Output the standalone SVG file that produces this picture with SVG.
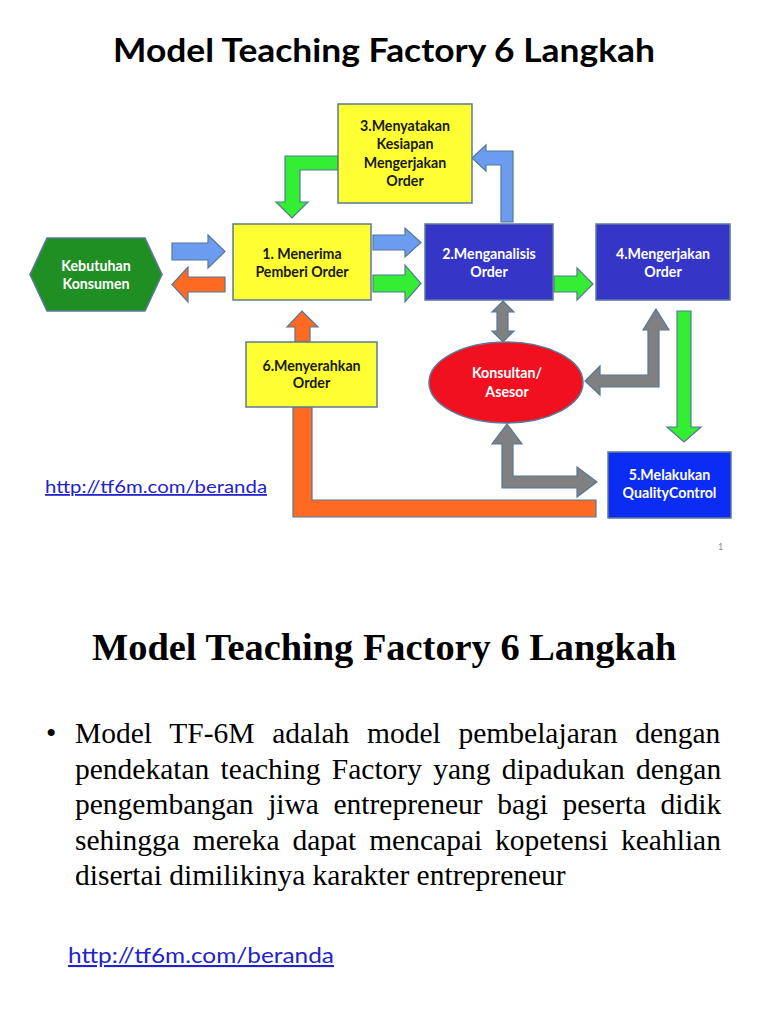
<svg xmlns="http://www.w3.org/2000/svg" width="768" height="1024" viewBox="0 0 768 1024">
<style>
.bg{fill:#ffffff}
.box{stroke:#5b7a99;stroke-width:1.5}
.yel{fill:#ffff33}
.nav{fill:#3535c8}
.blu5{fill:#0b2cf2}
.lbl{font-family:Lato,"Liberation Sans",sans-serif;font-weight:bold;font-size:14.2px;text-anchor:middle}
.dk{fill:#1a1a1a}
.wt{fill:#ffffff}
.arr{stroke:#55779a;stroke-width:1.2;stroke-linejoin:miter}
.a-blue{fill:#6b9cf0}
.a-green{fill:#33ee33}
.a-orange{fill:#ff6a22}
.a-gray{fill:#808080}
.title1{font-family:Lato,"Liberation Sans",sans-serif;font-weight:bold;font-size:33px;fill:#000}
.title2{font-family:"Liberation Serif","Times New Roman",serif;font-weight:bold;font-size:38.4px;fill:#000}
.body{font-family:"Liberation Serif","Times New Roman",serif;font-size:29.5px;fill:#000}
.url{font-family:Lato,"Liberation Sans",sans-serif;fill:#2323cc;text-decoration:underline}
</style>
<rect class="bg" x="0" y="0" width="768" height="1024"/>

<text class="title1" x="113" y="62" textLength="542" lengthAdjust="spacingAndGlyphs">Model Teaching Factory 6 Langkah</text>

<g id="connectors">
  <polygon class="arr a-blue" points="172,243 208,243 208,235 225,251.5 208,268 208,260 172,260"/>
  <polygon class="arr a-orange" points="225,277 188,277 188,267 172,284.5 188,302 188,292 225,292"/>
  <polygon class="arr a-blue" points="373,235 405,235 405,228 421,242.5 405,257 405,250 373,250"/>
  <polygon class="arr a-green" points="373,275 405,275 405,265 421,283.5 405,302 405,292 373,292"/>
  <polygon class="arr a-green" points="554,276 577,276 577,268 593,284 577,300 577,292 554,292"/>
  <polygon class="arr a-green" points="338,156 285,156 285,202 276,202 292,218 308,202 300,202 300,170 338,170"/>
  <polygon class="arr a-blue" points="513,222 513,151 486,151 486,145 472,158 486,171 486,165 501,165 501,222"/>
  <polygon class="arr a-gray" points="503,301 514,312 508,312 508,331 514,331 503,342 492,331 497,331 497,312 492,312"/>
  <polygon class="arr a-gray" points="656,309 669,330 659,330 659,387 600,387 600,395 585,381 600,366 600,375 648,375 648,330 643,330"/>
  <polygon class="arr a-green" points="677,311 691,311 691,427 701,427 684,442 667,427 677,427"/>
  <polygon class="arr a-gray" points="507,424 522,444 513,444 513,476 577,476 577,467 597,482 577,497 577,488 502,488 502,444 492,444"/>
  <polygon class="arr a-orange" points="295,342 295,327 287,327 302,311 318,327 310,327 310,342"/>
  <polygon class="arr a-orange" points="293,407 312,407 312,500 596,500 596,517 293,517"/>
</g>

<g id="node-kebutuhan">
  <polygon points="30,274.5 47,238 145,238 162,274.5 145,311 47,311" fill="#1f8f24" stroke="#5b7a99" stroke-width="1.5"/>
  <text class="lbl wt" x="96" y="271">Kebutuhan</text>
  <text class="lbl wt" x="96" y="289">Konsumen</text>
</g>
<g id="node-1">
  <rect class="box yel" x="233" y="224" width="138" height="76"/>
  <text class="lbl dk" x="302" y="259">1. Menerima</text>
  <text class="lbl dk" x="302" y="277">Pemberi Order</text>
</g>
<g id="node-2">
  <rect class="box nav" x="425" y="224" width="128" height="76"/>
  <text class="lbl wt" x="489" y="259">2.Menganalisis</text>
  <text class="lbl wt" x="489" y="277">Order</text>
</g>
<g id="node-3">
  <rect class="box yel" x="338" y="104" width="134" height="99"/>
  <text class="lbl dk" x="405" y="131">3.Menyatakan</text>
  <text class="lbl dk" x="405" y="149">Kesiapan</text>
  <text class="lbl dk" x="405" y="168">Mengerjakan</text>
  <text class="lbl dk" x="405" y="186">Order</text>
</g>
<g id="node-4">
  <rect class="box nav" x="596" y="224" width="134" height="76"/>
  <text class="lbl wt" x="663" y="259">4.Mengerjakan</text>
  <text class="lbl wt" x="663" y="277">Order</text>
</g>
<g id="node-5">
  <rect class="box blu5" x="608" y="452" width="123" height="66"/>
  <text class="lbl wt" x="669.5" y="480">5.Melakukan</text>
  <text class="lbl wt" x="669.5" y="498">QualityControl</text>
</g>
<g id="node-6">
  <rect class="box yel" x="246" y="342" width="131" height="65"/>
  <text class="lbl dk" x="311.5" y="371">6.Menyerahkan</text>
  <text class="lbl dk" x="311.5" y="388">Order</text>
</g>
<g id="node-konsultan">
  <ellipse cx="506" cy="382.5" rx="77" ry="40.5" fill="#f01020" stroke="#5b7a99" stroke-width="1.5"/>
  <text class="lbl wt" x="507" y="378">Konsultan/</text>
  <text class="lbl wt" x="507" y="397">Asesor</text>
</g>

<text class="url" x="45" y="493" font-size="18" textLength="222" lengthAdjust="spacingAndGlyphs">http://tf6m.com/beranda</text>
<text x="718" y="550" font-family="Lato,'Liberation Sans',sans-serif" font-size="9" fill="#8c8c8c">1</text>

<text class="title2" x="92" y="660">Model Teaching Factory 6 Langkah</text>
<text class="body" x="46" y="743">•</text>
<text class="body" x="75" y="743" word-spacing="10.4">Model TF-6M adalah model pembelajaran dengan</text>
<text class="body" x="75" y="779" word-spacing="3.9">pendekatan teaching Factory yang dipadukan dengan</text>
<text class="body" x="75" y="814" word-spacing="7.2">pengembangan jiwa entrepreneur bagi peserta didik</text>
<text class="body" x="75" y="850" word-spacing="5.5">sehingga mereka dapat mencapai kopetensi keahlian</text>
<text class="body" x="75" y="885">disertai dimilikinya karakter entrepreneur</text>

<text class="url" x="68" y="963" font-size="21" textLength="266" lengthAdjust="spacingAndGlyphs">http://tf6m.com/beranda</text>
</svg>
